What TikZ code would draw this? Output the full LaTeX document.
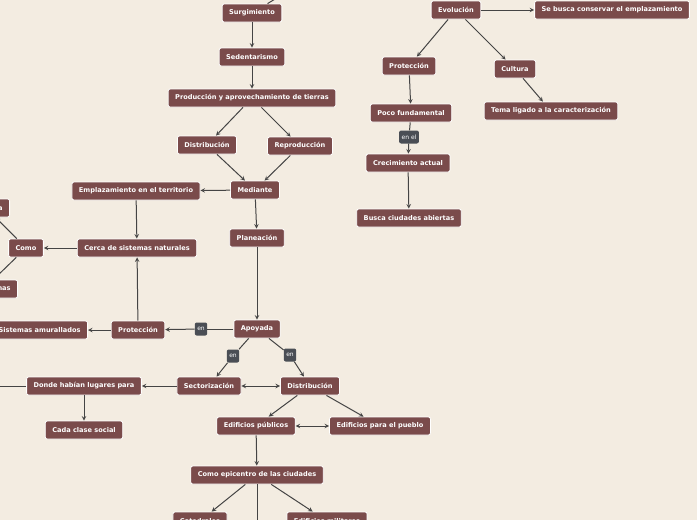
\documentclass[tikz,border=0pt]{standalone}
\usepackage{fontspec}
\setmainfont{DejaVu Sans}
\definecolor{bg}{HTML}{F3ECE1}
\definecolor{nd}{HTML}{7A4B4B}
\definecolor{ln}{HTML}{444444}
\definecolor{lb}{HTML}{4A4E55}
\begin{document}
\begin{tikzpicture}[x=1pt,y=-1pt,
 box/.style={rectangle,rounded corners=2pt,fill=nd,draw=white,line width=0.8pt,text=white,font=\bfseries\fontsize{6.6}{7.5}\selectfont,inner xsep=7pt,minimum height=18pt},
 lab/.style={rectangle,rounded corners=2pt,fill=lb,text=white,font=\fontsize{6}{7}\selectfont,inner sep=2.5pt,minimum height=13pt},
 ar/.style={->,>=stealth,draw=ln,line width=1pt},
 li/.style={draw=ln,line width=1pt}]
\fill[bg] (0,0) rectangle (697,520);
\clip (0,0) rectangle (697,520);
\useasboundingbox (0,0) rectangle (697,520);
\node[box] (surg) at (252,13) {Surgimiento};
\node[box] (sed) at (252,57) {Sedentarismo};
\node[box] (prod) at (252,98) {Producción y aprovechamiento de tierras};
\node[box] (dist1) at (207,145) {Distribución};
\node[box] (rep) at (300,146) {Reproducción};
\node[box] (med) at (255,190) {Mediante};
\node[box] (empl) at (136,191) {Emplazamiento en el territorio};
\node[box] (plan) at (257,238) {Planeación};
\node[box] (cerca) at (137,248) {Cerca de sistemas naturales};
\node[box] (como) at (26,248) {Como};
\node[box,anchor=east] (mont) at (10,208) {Montaña};
\node[box,anchor=east] (rios) at (18,289) {Ríos y lagunas};
\node[box] (apo) at (257,329) {Apoyada};
\node[lab] (en1) at (201,329) {en};
\node[box] (prot1) at (138,330) {Protección};
\node[box,anchor=east] (sist) at (88,330) {Sistemas amurallados};
\node[lab] (en2) at (233,356) {en};
\node[lab] (en3) at (290,355) {en};
\node[box] (sect) at (209,386) {Sectorización};
\node[box] (dist2) at (310,386) {Distribución};
\node[box] (donde) at (84,386) {Donde habían lugares para};
\coordinate (offl) at (-10,386);
\node[box] (cada) at (84,430) {Cada clase social};
\node[box] (edpub) at (256,426) {Edificios públicos};
\node[box] (edpue) at (380,426) {Edificios para el pueblo};
\node[box] (epic) at (257,475) {Como epicentro de las ciudades};
\node[box] (cat) at (200,521) {Catedrales};
\node[box] (mil) at (327,521) {Edificios militares};
\coordinate (offb) at (257,530);
\coordinate (offt) at (290,-10);
\node[box] (evo) at (456,10) {Evolución};
\node[box] (cons) at (612,10) {Se busca conservar el emplazamiento};
\node[box] (prot2) at (409,66) {Protección};
\node[box] (cult) at (515,69) {Cultura};
\node[box] (poco) at (411,113) {Poco fundamental};
\node[lab] (enel) at (409,137) {en el};
\node[box] (crec) at (408,163) {Crecimiento actual};
\node[box] (busca) at (409,218) {Busca ciudades abiertas};
\node[box] (tema) at (551,111) {Tema ligado a la caracterización};
\draw[li] (offt) -- (surg);
\draw[ar] (surg) -- (sed);
\draw[ar] (sed) -- (prod);
\draw[ar] (prod) -- (dist1);
\draw[ar] (prod) -- (rep);
\draw[ar] (dist1) -- (med);
\draw[ar] (rep) -- (med);
\draw[ar] (med) -- (empl);
\draw[ar] (med) -- (plan);
\draw[ar] (empl) -- (cerca);
\draw[ar] (cerca) -- (como);
\draw[ar] (como) -- (mont);
\draw[ar] (como) -- (rios);
\draw[ar] (plan) -- (apo);
\draw[li] (apo) -- (en1);
\draw[ar] (en1) -- (prot1);
\draw[ar] (prot1) -- (sist);
\draw[ar] (prot1) -- (cerca);
\draw[li] (apo) -- (en2);
\draw[ar] (en2) -- (sect);
\draw[li] (apo) -- (en3);
\draw[ar] (en3) -- (dist2);
\draw[<->,>=stealth,draw=ln,line width=1pt] (sect) -- (dist2);
\draw[ar] (sect) -- (donde);
\draw[li] (donde) -- (offl);
\draw[ar] (donde) -- (cada);
\draw[ar] (dist2) -- (edpub);
\draw[ar] (dist2) -- (edpue);
\draw[<->,>=stealth,draw=ln,line width=1pt] (edpub) -- (edpue);
\draw[ar] (edpub) -- (epic);
\draw[ar] (epic) -- (cat);
\draw[ar] (epic) -- (mil);
\draw[li] (epic) -- (offb);
\draw[ar] (evo) -- (cons);
\draw[ar] (evo) -- (prot2);
\draw[ar] (evo) -- (cult);
\draw[ar] (prot2) -- (poco);
\draw[li] (poco) -- (enel);
\draw[ar] (enel) -- (crec);
\draw[ar] (crec) -- (busca);
\draw[ar] (cult) -- (tema);
\end{tikzpicture}
\end{document}
